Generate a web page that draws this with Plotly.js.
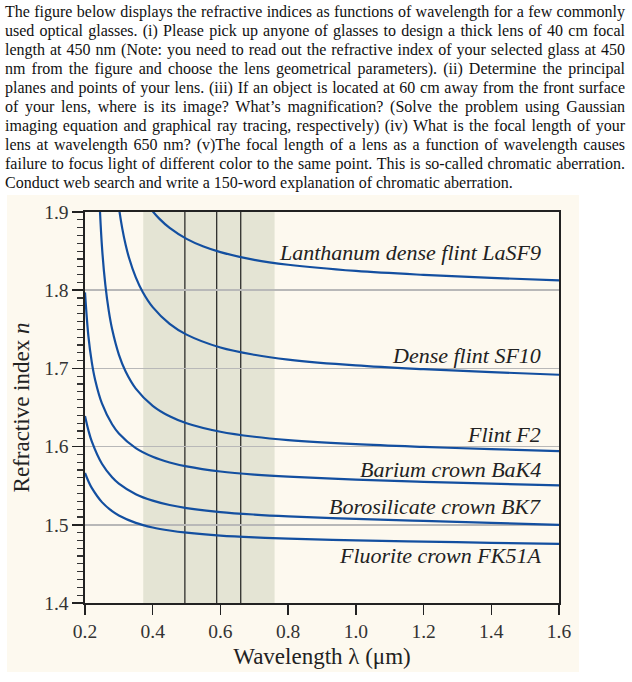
<!DOCTYPE html>
<html>
<head>
<meta charset="utf-8">
<script src="https://cdn.plot.ly/plotly-3.0.1.min.js"></script>
<style>
  html, body { margin: 0; padding: 0; background: #ffffff; }
  body { width: 632px; height: 682px; position: relative; overflow: hidden; }
  #para { position: absolute; left: 5px; top: 2px; width: 620px;
          font-family: "Liberation Serif", "Times New Roman", serif; font-size: 16px;
          line-height: 19px; color: #111; }
  #para div { text-align: justify; text-align-last: justify; white-space: nowrap; }
  #para div.last { text-align-last: left; }
  #chart { position: absolute; left: 7px; top: 195px; width: 572px; height: 477px; }
</style>
</head>
<body>
<div id="para">
<div>The figure below displays the refractive indices as functions of wavelength for a few commonly</div>
<div>used optical glasses. (i) Please pick up anyone of glasses to design a thick lens of 40 cm focal</div>
<div>length at 450 nm (Note: you need to read out the refractive index of your selected glass at 450</div>
<div>nm from the figure and choose the lens geometrical parameters). (ii) Determine the principal</div>
<div>planes and points of your lens. (iii) If an object is located at 60 cm away from the front surface</div>
<div>of your lens, where is its image? What’s magnification? (Solve the problem using Gaussian</div>
<div>imaging equation and graphical ray tracing, respectively) (iv) What is the focal length of your</div>
<div>lens at wavelength 650 nm? (v)The focal length of a lens as a function of wavelength causes</div>
<div>failure to focus light of different color to the same point. This is so-called chromatic aberration.</div>
<div class="last">Conduct web search and write a 150-word explanation of chromatic aberration.</div>
</div>
<div id="chart"></div>
<script>
// ---- data (wavelength in µm, refractive index n) ----
const lambdaLaSF9 = [0.38, 0.40, 0.42, 0.45, 0.50, 0.55, 0.60, 0.70, 0.80, 1.0, 1.2, 1.4, 1.6];
const nLaSF9      = [1.9129, 1.9009, 1.8912, 1.8796, 1.8656, 1.8558, 1.8487, 1.8388, 1.8325, 1.8246, 1.8196, 1.8158, 1.8125];

const lambdaSF10 = [0.29, 0.30, 0.31, 0.32, 0.33, 0.35, 0.37, 0.40, 0.45, 0.50, 0.60, 0.70, 0.80, 1.0, 1.2, 1.4, 1.6];
const nSF10      = [1.9430, 1.9062, 1.8791, 1.8582, 1.8415, 1.8163, 1.7980, 1.7783, 1.7569, 1.7432, 1.7267, 1.7174, 1.7113, 1.7038, 1.6990, 1.6953, 1.6919];

const lambdaF2 = [0.24, 0.25, 0.26, 0.27, 0.28, 0.30, 0.32, 0.35, 0.40, 0.45, 0.50, 0.60, 0.70, 0.80, 1.0, 1.2, 1.4, 1.6];
const nF2      = [1.9410, 1.8563, 1.8070, 1.7741, 1.7503, 1.7177, 1.6960, 1.6742, 1.6522, 1.6388, 1.6299, 1.6190, 1.6126, 1.6084, 1.6031, 1.5996, 1.5968, 1.5943];

const lambdaBaK4 = [0.20, 0.21, 0.22, 0.23, 0.25, 0.28, 0.30, 0.35, 0.40, 0.45, 0.50, 0.60, 0.70, 0.80, 1.0, 1.2, 1.4, 1.6];
const nBaK4      = [1.7972, 1.7413, 1.7080, 1.6852, 1.6552, 1.6286, 1.6169, 1.5981, 1.5870, 1.5797, 1.5747, 1.5682, 1.5642, 1.5615, 1.5578, 1.5550, 1.5526, 1.5503];

const lambdaBK7 = [0.20, 0.21, 0.22, 0.25, 0.28, 0.30, 0.35, 0.40, 0.45, 0.50, 0.60, 0.70, 0.80, 1.0, 1.2, 1.4, 1.6];
const nBK7      = [1.6392, 1.6209, 1.6067, 1.5781, 1.5609, 1.5528, 1.5392, 1.5309, 1.5253, 1.5214, 1.5163, 1.5131, 1.5108, 1.5075, 1.5049, 1.5025, 1.5000];

const lambdaFK51A = [0.20, 0.21, 0.22, 0.25, 0.28, 0.30, 0.35, 0.40, 0.45, 0.50, 0.60, 0.70, 0.80, 1.0, 1.2, 1.4, 1.6];
const nFK51A      = [1.5663, 1.5557, 1.5472, 1.5290, 1.5175, 1.5120, 1.5025, 1.4966, 1.4927, 1.4899, 1.4862, 1.4839, 1.4823, 1.4801, 1.4785, 1.4770, 1.4756];

const glassNames = ['Lanthanum dense flint LaSF9', 'Dense flint SF10', 'Flint F2',
                    'Barium crown BaK4', 'Borosilicate crown BK7', 'Fluorite crown FK51A'];

// visible band and spectral lines (µm)
const visibleBand = [0.372, 0.76];
const spectralLines = [0.495, 0.589, 0.66];

// tick values
const xTicks = [0.2, 0.4, 0.6, 0.8, 1.0, 1.2, 1.4, 1.6];
const xTickText = ['0.2', '0.4', '0.6', '0.8', '1.0', '1.2', '1.4', '1.6'];
const yTicks = [1.4, 1.5, 1.6, 1.7, 1.8, 1.9];
const yTickText = ['1.4', '1.5', '1.6', '1.7', '1.8', '1.9'];

// ---- build chart ----
const serif = '"Liberation Serif", "Times New Roman", serif';
const curveColor = '#134fa0';
const series = [
  [lambdaLaSF9, nLaSF9], [lambdaSF10, nSF10], [lambdaF2, nF2],
  [lambdaBaK4, nBaK4], [lambdaBK7, nBK7], [lambdaFK51A, nFK51A]
];
const traces = series.map((s, i) => ({
  type: 'scatter', mode: 'lines', x: s[0], y: s[1], name: glassNames[i],
  line: { color: curveColor, width: 2.2, shape: 'spline', smoothing: 1 },
  hoverinfo: 'skip'
}));

const labelN = [1.848, 1.717, 1.616, 1.571, 1.523, 1.461];
const annotations = glassNames.map((name, i) => ({
  x: 1.553, y: labelN[i], xref: 'x', yref: 'y', xanchor: 'right', yanchor: 'middle',
  text: '<i>' + name + '</i>', showarrow: false,
  font: { family: serif, size: 22, color: '#222' }
}));

const shapes = [{
  type: 'rect', xref: 'x', yref: 'paper', x0: visibleBand[0], x1: visibleBand[1], y0: 0, y1: 1,
  fillcolor: '#e4e4d4', line: { width: 0 }, layer: 'below'
}].concat(spectralLines.map(w => ({
  type: 'line', xref: 'x', yref: 'paper', x0: w, x1: w, y0: 0, y1: 1,
  line: { color: '#1e1e1e', width: 1.2 }, layer: 'between'
})));

const layout = {
  width: 572, height: 477,
  margin: { l: 78, r: 20, t: 17, b: 69 },
  paper_bgcolor: '#fdf9ef', plot_bgcolor: '#fdf9ef',
  showlegend: false,
  font: { family: serif, color: '#222' },
  xaxis: {
    range: [0.2, 1.6], tickvals: xTicks, ticktext: xTickText,
    ticks: 'outside', ticklen: 10, tickwidth: 1.5, tickcolor: '#222',
    showline: true, linecolor: '#222', linewidth: 1.6, mirror: true,
    showgrid: false, zeroline: false,
    tickfont: { family: serif, size: 19.5, color: '#333' },
    title: { text: 'Wavelength λ (μm)', font: { family: serif, size: 23, color: '#222' }, standoff: 7 }
  },
  yaxis: {
    range: [1.4, 1.9], tickvals: yTicks, ticktext: yTickText,
    ticks: 'outside', ticklen: 11, tickwidth: 1.5, tickcolor: '#222',
    minor: { dtick: 0.01, ticks: 'outside', ticklen: 6, tickwidth: 1.2, tickcolor: '#333', showgrid: false },
    showline: true, linecolor: '#222', linewidth: 1.6, mirror: true,
    showgrid: true, gridcolor: '#b8b8b8', gridwidth: 1.5, zeroline: false,
    tickfont: { family: serif, size: 19.5, color: '#333' },
    title: { text: 'Refractive index <i>n</i>', font: { family: serif, size: 23, color: '#222' }, standoff: 8 }
  },
  shapes: shapes,
  annotations: annotations
};

Plotly.newPlot('chart', traces, layout, { displayModeBar: false, staticPlot: true });
</script>
</body>
</html>
